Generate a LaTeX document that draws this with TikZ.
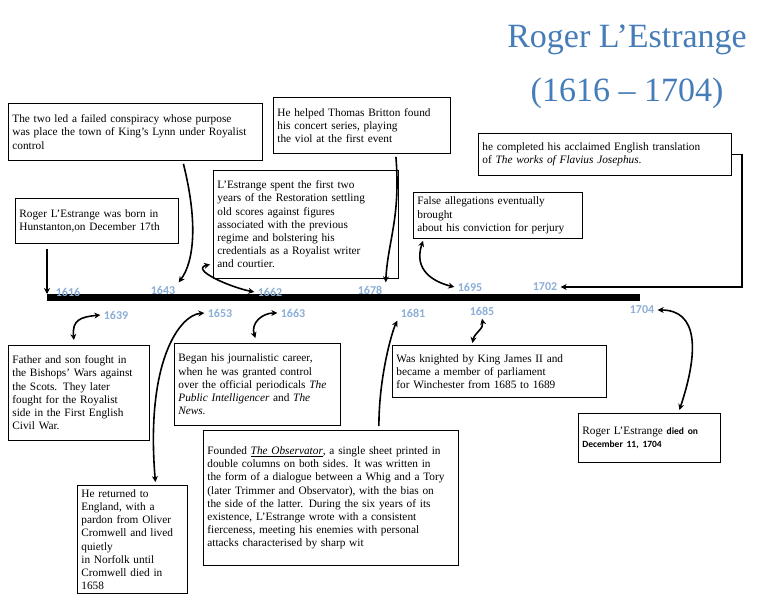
\documentclass[tikz,border=0pt]{standalone}
\usepackage{fontspec}
\setmainfont{Liberation Serif}
\newfontfamily\calib{Carlito}
\usetikzlibrary{arrows.meta}
\definecolor{titleblue}{RGB}{70,125,185}
\definecolor{yearblue}{RGB}{140,175,215}
\begin{document}
\begin{tikzpicture}[x=1pt,y=-1pt,
  box/.style={draw,line width=0.8pt,anchor=north west,align=left,inner xsep=4pt,inner ysep=4pt,font=\fontsize{11.3}{13.2}\selectfont},
  yr/.style={font=\calib\bfseries\fontsize{12}{12}\selectfont,text=yearblue},
  conn/.style={line width=1.6pt,-{Stealth[length=6pt,width=6pt]}},
  conn2/.style={line width=1.6pt,{Stealth[length=6pt,width=6pt]}-{Stealth[length=6pt,width=6pt]}}]
\useasboundingbox (0,0) rectangle (768,594);
\fill[white] (0,0) rectangle (768,594);
% title
\node[text=titleblue,font=\fontsize{34}{34}\selectfont] (t1) at (627,40) {Roger L'Estrange};
\node[text=titleblue,font=\fontsize{34}{34}\selectfont] (t2) at (627,93) {(1616 -- 1704)};
% bar
\fill (47,294) rectangle (640,301);
\coordinate (barw) at (47,294);
% years
\node[yr] (y1616) at (68,292) {1616};
\node[yr] (y1643) at (163,290) {1643};
\node[yr] (y1662) at (270,292) {1662};
\node[yr] (y1678) at (370,290) {1678};
\node[yr] (y1695) at (470,287) {1695};
\node[yr] (y1702) at (545,287) {1702};
\node[yr] (y1639) at (116,315) {1639};
\node[yr] (y1653) at (220,313) {1653};
\node[yr] (y1663) at (293,313) {1663};
\node[yr] (y1681) at (413,313) {1681};
\node[yr] (y1685) at (482,311) {1685};
\node[yr] (y1704) at (642,310) {1704};
% boxes
\node[box,minimum width=254pt,minimum height=57pt,text width=246pt] (kl) at (8,103) {The two led a failed conspiracy whose purpose\\was place the town of King's Lynn under Royalist\\control};
\node[box,minimum width=163pt,minimum height=45pt,text width=155pt] (born) at (15,198) {Roger L'Estrange was born in\\Hunstanton,on December 17th};
\node[box,minimum width=185pt,minimum height=108pt,text width=177pt] (rest) at (213,170) {L'Estrange spent the first two\\years of the Restoration settling\\old scores against figures\\associated with the previous\\regime and bolstering his\\credentials as a Royalist writer\\and courtier.};
\node[box,minimum width=177pt,minimum height=56pt,text width=169pt] (brit) at (273,97) {He helped Thomas Britton found\\his concert series, playing\\the viol at the first event};
\node[box,minimum width=253pt,minimum height=42pt,text width=245pt] (jos) at (478,133) {he completed his acclaimed English translation\\of {\itshape The works of Flavius Josephus}.};
\node[box,minimum width=169pt,minimum height=46pt,text width=161pt] (perj) at (413,192) {False allegations eventually brought\\about his conviction for perjury};
\node[box,minimum width=141pt,minimum height=95pt,text width=133pt] (fath) at (8,345) {Father and son fought in\\the Bishops' Wars against\\the Scots. They later\\fought for the Royalist\\side in the First English\\Civil War.};
\node[box,minimum width=166pt,minimum height=82pt,text width=158pt] (jour) at (174,343) {Began his journalistic career,\\when he was granted control\\over the official periodicals {\itshape The}\\{\itshape Public Intelligencer} and {\itshape The}\\{\itshape News.}};
\node[box,minimum width=214pt,minimum height=52pt,text width=206pt] (kni) at (392,345) {Was knighted by King James II and\\became a member of parliament\\for Winchester from 1685 to 1689};
\node[box,minimum width=142pt,minimum height=49pt,text width=134pt] (died) at (578,413) {Roger L'Estrange {\calib\bfseries\fontsize{9.5}{14}\selectfont died on}\\{\calib\bfseries\fontsize{9.5}{14}\selectfont December 11, 1704}};
\node[box,minimum width=255pt,minimum height=135pt,text width=247pt] (obs) at (203,430) {Founded \underline{\itshape The Observator}, a single sheet printed in\\double columns on both sides. It was written in\\the form of a dialogue between a Whig and a Tory\\(later Trimmer and Observator), with the bias on\\the side of the latter. During the six years of its\\existence, L'Estrange wrote with a consistent\\fierceness, meeting his enemies with personal\\attacks characterised by sharp wit};
\node[box,minimum width=110pt,minimum height=105pt,text width=102pt] (ret) at (77,485) {He returned to\\England, with a\\pardon from Oliver\\Cromwell and lived\\quietly\\in Norfolk until\\Cromwell died in\\1658};
% connectors
\draw[conn] (born.south west) ++(32,5) coordinate (bs) -- (barw);
\draw[conn] (kl.south) ++(48,3) .. controls +(15,60) and +(15,-20) .. (y1643.north east);
\draw[conn2] (rest.west) ++(-3,40) .. controls +(-20,5) and +(-25,-5) .. (y1662.west);
\draw[conn] (brit.south) ++(34,3) .. controls +(5,60) and +(2,-40) .. (y1678.north east);
\draw[conn2] (perj.south west) ++(10,2) .. controls +(-10,30) and +(-20,-5) .. (y1695.west);
\draw[conn] (jos.east) -- ++(10,0) |- (y1702.east);
\draw[conn2] (fath.north) ++(-5,-5) .. controls +(-2,-20) and +(-20,2) .. (y1639.west);
\draw[conn2] (ret.north) ++(23,-3) .. controls +(-10,-120) and +(-25,2) .. (y1653.west);
\draw[conn2] (jour.north) ++(-2,-5) .. controls +(-5,-15) and +(-15,0) .. (y1663.west);
\draw[conn] (obs.north) ++(48,-4) .. controls +(0,-50) and +(-5,10) .. (y1681.south west);
\draw[conn2] (kni.north) ++(-27,-2) .. controls +(2,-10) and +(2,10) .. (y1685.south);
\draw[conn2] (died.north) ++(30,-3) .. controls +(20,-60) and +(40,0) .. (y1704.east);
\end{tikzpicture}
\end{document}
